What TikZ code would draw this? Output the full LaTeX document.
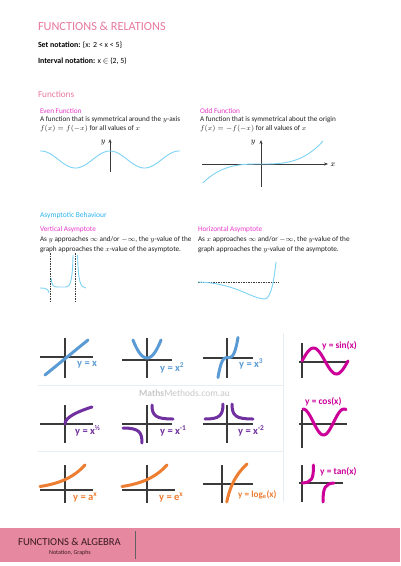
\documentclass[tikz,border=0pt]{standalone}
\usepackage{fontspec}
\setmainfont{Carlito}
\usetikzlibrary{arrows.meta}
\definecolor{titlepink}{HTML}{E8799D}
\definecolor{headmag}{HTML}{E83ACB}
\definecolor{asyblue}{HTML}{2DB4EE}
\definecolor{curveblue}{HTML}{7DD3F5}
\definecolor{gblue}{HTML}{5B9BD5}
\definecolor{gpurple}{HTML}{7030A0}
\definecolor{gorange}{HTML}{ED7D31}
\definecolor{gmag}{HTML}{CC0099}
\definecolor{axisgrey}{HTML}{3A3A3A}
\definecolor{sepgrey}{HTML}{E6EEF3}
\definecolor{wmgrey}{HTML}{C8C8C8}
\definecolor{footpink}{HTML}{E6889F}
\definecolor{foottext}{HTML}{3A1A22}
\definecolor{bodytext}{HTML}{222222}
\begin{document}
\begin{tikzpicture}[x=1pt,y=-1pt,
  txt/.style={anchor=base west, inner sep=0pt, outer sep=0pt},
  body/.style={txt, text=bodytext, font=\fontsize{7.2}{9}\selectfont},
  subhead/.style={txt, text=headmag, font=\fontsize{7.3}{9}\selectfont},
  thinaxis/.style={draw=axisgrey, line width=0.6pt},
  gaxis/.style={draw=axisgrey, line width=1.6pt},
  crv/.style={line width=3pt, line cap=round},
  glabel/.style={anchor=west, inner sep=0pt, font=\bfseries\fontsize{10.5}{12}\selectfont},
  tlabel/.style={anchor=west, inner sep=0pt, font=\bfseries\fontsize{9.4}{11}\selectfont, text=gmag},
  sep/.style={draw=sepgrey, line width=0.6pt},
  tip/.style={-{Stealth[length=4pt,width=3pt]}}
]
\useasboundingbox (0,0) rectangle (400,566);
\fill[white] (0,0) rectangle (400,566);

% ---------- header text ----------
\node[txt, text=titlepink, font=\fontsize{12.3}{14}\selectfont] (title) at (38,30.7) {FUNCTIONS \& RELATIONS};
\node[txt, font=\fontsize{7.9}{9}\selectfont] (setn) at (38,47.5) {\textbf{Set notation:} \{x: 2 < x < 5\}};
\node[txt, font=\fontsize{7.9}{9}\selectfont] (intn) at (38,63.3) {\textbf{Interval notation:} x $\in$ (2, 5)};
\node[txt, text=titlepink, font=\fontsize{9.2}{11}\selectfont] (funcs) at (38,97.7) {Functions};

% ---------- even / odd ----------
\node[subhead] (evenh) at (40,113) {Even Function};
\node[body] (even1) at (40,121.8) {A function that is symmetrical around the $y$-axis};
\node[body] (even2) at (40,130.8) {$f(x) = f(-x)$ for all values of $x$};
\node[subhead] (oddh) at (200,113) {Odd Function};
\node[body] (odd1) at (200,121.8) {A function that is symmetrical about the origin};
\node[body] (odd2) at (200,130.8) {$f(x) = -f(-x)$ for all values of $x$};

% even graph
\coordinate (ey0) at (110,172);
\coordinate (ey1) at (110,139);
\draw[thinaxis, tip] (ey0) -- (ey1);
\node[inner sep=0pt, font=\fontsize{8}{9}\selectfont] (eylab) at (103,143) {$y$};
\draw[curveblue, line width=0.9pt] plot[domain=40:180, samples=90] (\x, {159.5-8.5*cos(5.2174*(\x-110))});

% odd graph
\coordinate (oy0) at (261,187);
\coordinate (oy1) at (261,140);
\coordinate (ox0) at (202,164);
\coordinate (ox1) at (328,164);
\draw[thinaxis, tip] (oy0) -- (oy1);
\draw[thinaxis, tip] (ox0) -- (ox1);
\node[inner sep=0pt, font=\fontsize{8}{9}\selectfont] (oylab) at (253,143) {$y$};
\node[inner sep=0pt, font=\fontsize{8}{9}\selectfont] (oxlab) at (333,165) {$x$};
\draw[curveblue, line width=0.9pt] plot[domain=203:323, samples=90] (\x, {164-23*((\x-261)/62)^3});

% ---------- asymptotes ----------
\node[txt, text=asyblue, font=\fontsize{7.5}{9}\selectfont] (asyh) at (40,217.5) {Asymptotic Behaviour};
\node[subhead] (verth) at (40,231) {Vertical Asymptote};
\node[body] (vert1) at (40,241.5) {As $y$ approaches $\infty$ and/or $-\infty$, the $y$-value of the};
\node[body] (vert2) at (40,251) {graph approaches the $x$-value of the asymptote.};
\node[subhead] (horh) at (198,231) {Horizontal Asymptote};
\node[body] (hor1) at (198,241.5) {As $x$ approaches $\infty$ and/or $-\infty$, the $y$-value of the};
\node[body] (hor2) at (198,251) {graph approaches the $y$-value of the asymptote.};

% vertical asymptote graph
\draw[axisgrey, line width=0.5pt, dash pattern=on 1.5pt off 1pt] (50,253) -- (50,302);
\draw[axisgrey, line width=0.5pt, dash pattern=on 1.5pt off 1pt] (75.3,253) -- (75.3,302);
\draw[curveblue, line width=0.9pt] (40,288) .. controls (46,288) and (48.5,289) .. (49,293);
\draw[curveblue, line width=0.9pt] (51.2,278) .. controls (51.6,285.5) and (53,287) .. (58,287) -- (66,287) .. controls (70.5,287) and (72.5,280) .. (73,255);
\draw[curveblue, line width=0.9pt] (77.6,255) .. controls (78.2,280) and (80,288) .. (86,288);

% horizontal asymptote graph
\draw[axisgrey, line width=0.5pt, dash pattern=on 1.5pt off 1pt] (198,282) -- (279,282);
\draw[curveblue, line width=0.9pt] (198,282) .. controls (235,283) and (250,298) .. (264,299) .. controls (271,300) and (274,280) .. (276,262);

% ---------- graph grid ----------
\draw[sep] (38,385) -- (283,385);
\draw[sep] (38,451) -- (283,451);
\draw[sep] (283,333) -- (283,502);
\node[inner sep=0pt, text=wmgrey, font=\fontsize{9.5}{11}\selectfont] (wm) at (184.5,393) {\textbf{Maths}Methods.com.au};

% row 1
\draw[gaxis] (40,357) -- (93,357);
\draw[gaxis] (65,338) -- (65,378);
\draw[gblue, crv] (45,375) -- (88,340);
\node[glabel, text=gblue] (l1) at (77,365) {y = x};

\draw[gaxis] (122,360) -- (172,360);
\draw[gaxis] (147,338) -- (147,378);
\draw[gblue, crv] plot[domain=133:161, samples=40] (\x, {358-18*((\x-147)/14)^2});
\node[glabel, text=gblue] (l2) at (160,368) {y = x\textsuperscript{2}};

\draw[gaxis] (203,358) -- (253,358);
\draw[gaxis] (227,338) -- (227,378);
\draw[gblue, crv] plot[domain=218:238, samples=40] (\x, {357.5-20*((\x-228)/10)^3});
\node[glabel, text=gblue] (l3) at (239,364) {y = x\textsuperscript{3}};

\draw[gaxis] (299,362) -- (347,362);
\draw[gaxis] (302,343) -- (302,378);
\draw[gmag, crv] plot[domain=302:348, samples=50] (\x, {361-13*sin(7.8261*(\x-302))});
\node[tlabel] (l4) at (322,346) {y = sin(x)};

% row 2
\draw[gaxis] (40,424) -- (93,424);
\draw[gaxis] (65,405) -- (65,443);
\draw[gpurple, crv] plot[domain=65:92, samples=60] (\x, {424-17*sqrt((\x-65)/27)});
\node[glabel, text=gpurple] (l5) at (75,431) {y = x\textsuperscript{½}};

\draw[gaxis] (122,424) -- (172,424);
\draw[gaxis] (147,405) -- (147,443);
\draw[gpurple, crv] (152,405) .. controls (152,416) and (156,419) .. (173,419);
\draw[gpurple, crv] (123,428) .. controls (139,428) and (142,432) .. (142,443);
\node[glabel, text=gpurple] (l6) at (160,431) {y = x\textsuperscript{-1}};

\draw[gaxis] (203,424) -- (253,424);
\draw[gaxis] (227,405) -- (227,443);
\draw[gpurple, crv] (205,419) .. controls (219,419) and (223,416) .. (223,404);
\draw[gpurple, crv] (232,404) .. controls (232,416) and (236,419) .. (253,419);
\node[glabel, text=gpurple] (l7) at (238,431) {y = x\textsuperscript{-2}};

\draw[gaxis] (299,424) -- (347,424);
\draw[gaxis] (302,410) -- (302,448);
\draw[gmag, crv] plot[domain=303:346, samples=50] (\x, {422-13*cos(8.7805*(\x-303))});
\node[tlabel] (l8) at (305,402) {y = cos(x)};

% row 3
\draw[gaxis] (40,490) -- (93,490);
\draw[gaxis] (65,465) -- (65,503);
\draw[gorange, crv] plot[domain=40:85, samples=50] (\x, {490-3.5*exp(0.0437*(\x-40))});
\node[glabel, text=gorange] (l9) at (73,498) {y = a\textsuperscript{x}};

\draw[gaxis] (122,490) -- (175,490);
\draw[gaxis] (147,465) -- (147,503);
\draw[gorange, crv] plot[domain=122:167, samples=50] (\x, {490-3.5*exp(0.0437*(\x-122))});
\node[glabel, text=gorange] (l10) at (159,498) {y = e\textsuperscript{x}};

\draw[gaxis] (203,484) -- (253,484);
\draw[gaxis] (222,465) -- (222,503);
\draw[gorange, crv] plot[variable=\t, domain=7:45, samples=50] ({222+3.5*exp(0.0437*\t)}, {509-\t});
\node[anchor=west, inner sep=0pt, text=gorange, font=\bfseries\fontsize{9.2}{11}\selectfont] (l11) at (238,495) {y = log\textsubscript{e}(x)};

\draw[gaxis] (299,483) -- (343,483);
\draw[gaxis] (302,465) -- (302,502);
\draw[gmag, crv] (302,483) .. controls (312,482.5) and (313.5,479) .. (313.5,465);
\draw[gmag, crv] (323,502) .. controls (323,488) and (325,483.5) .. (334,483);
\node[tlabel] (l12) at (320,472) {y = tan(x)};

% ---------- footer ----------
\fill[footpink] (0,528) rectangle (400,562);
\draw[draw=axisgrey!80, line width=0.6pt] (135,531) -- (135,559);
\node[anchor=base west, inner sep=0pt, text=foottext, font=\fontsize{10.6}{12}\selectfont] (ft) at (18,545) {FUNCTIONS \& ALGEBRA};
\node[anchor=base, inner sep=0pt, text=foottext, font=\fontsize{6}{7}\selectfont] (fs) at (70,554) {Notation, Graphs};
\end{tikzpicture}
\end{document}
